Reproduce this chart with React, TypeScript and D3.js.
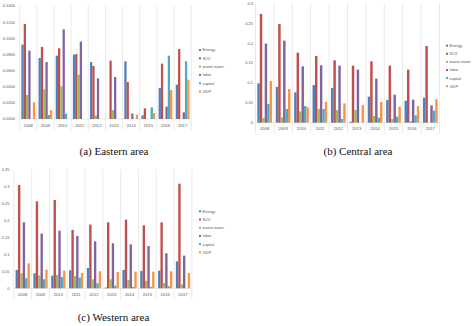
import React from "react";
import * as d3 from "d3";

const years = ["2008", "2009", "2010", "2011", "2012", "2013", "2014", "2015", "2016", "2017"];
const seriesNames = ["Energy", "SO2", "waste water", "labor", "capital", "GDP"];
const colors = ["#4F81BD", "#C0504D", "#9BBB59", "#8064A2", "#4BACC6", "#F79646"];

// Eastern area
const eastEnergy = [0.0921, 0.0756, 0.0785, 0.0797, 0.0706, 0, 0.0715, 0.0045, 0.0384, 0.0425];
const eastSO2 = [0.1177, 0.0892, 0.0876, 0.0805, 0.0657, 0.0723, 0.0458, 0.0132, 0.0686, 0.0867];
const eastWaste = [0.0297, 0.0368, 0.0405, 0.0549, 0.0045, 0.011, 0, 0, 0, 0];
const eastLabor = [0.0847, 0.0706, 0.1111, 0.0958, 0.0504, 0.052, 0.0066, 0, 0.0153, 0.0083];
const eastCapital = [0, 0.005, 0.0066, 0, 0, 0, 0, 0.0145, 0.0785, 0.0715];
const eastGDP = [0.0207, 0.011, 0, 0, 0, 0, 0.0054, 0.0074, 0.0359, 0.0487];
const eastTicks = [0, 0.02, 0.04, 0.06, 0.08, 0.1, 0.12, 0.14];

// Central area
const centEnergy = [0.0989, 0.0897, 0.0763, 0.0947, 0.0872, 0.0025, 0.0654, 0.057, 0.0553, 0.0629];
const centSO2 = [0.2733, 0.248, 0.176, 0.1676, 0.1567, 0.1433, 0.1542, 0.1433, 0.1333, 0.1928];
const centWaste = [0.0117, 0.0134, 0.0285, 0.0344, 0.0319, 0.0319, 0.0168, 0.0092, 0.0042, 0];
const centLabor = [0.1987, 0.2062, 0.1417, 0.1442, 0.1433, 0.1333, 0.1106, 0.0704, 0.0578, 0.0436];
const centCapital = [0.0469, 0.0344, 0.0419, 0.0344, 0.0092, 0, 0.0126, 0.0151, 0.0184, 0.0302];
const centGDP = [0.1048, 0.0847, 0.0386, 0.0528, 0.0486, 0.0444, 0.052, 0.0402, 0.0419, 0.0587];
const centTicks = [0, 0.05, 0.1, 0.15, 0.2, 0.25, 0.3];

// Western area
const westEnergy = [0.0539, 0.0441, 0.0373, 0.0529, 0.0598, 0.002, 0.0539, 0.051, 0.052, 0.0794];
const westSO2 = [0.304, 0.2559, 0.2598, 0.1716, 0.1873, 0.1941, 0.202, 0.1853, 0.1941, 0.3078];
const westWaste = [0.0441, 0.0382, 0.0392, 0.0363, 0.0265, 0.0265, 0.0245, 0.0225, 0.0157, 0.0118];
const westLabor = [0.194, 0.1608, 0.1696, 0.1539, 0.1382, 0.1324, 0.1294, 0.1245, 0.1029, 0.0961];
const westCapital = [0.0294, 0.0265, 0.0333, 0.0314, 0.0147, 0.0078, 0.0039, 0.0039, 0.0059, 0];
const westGDP = [0.0735, 0.0549, 0.052, 0.0451, 0.05, 0.048, 0.049, 0.049, 0.05, 0.0451];
const westTicks = [0, 0.05, 0.1, 0.15, 0.2, 0.25, 0.3, 0.35];

type PanelProps = {
  left: number;
  right: number;
  top: number;
  bottom: number;
  ticks: number[];
  fmt: (v: number) => string;
  labelX: number;
  series: number[][];
  legendX: number;
  legendY: number;
  legendStep: number;
};

function Panel(p: PanelProps) {
  const x = d3.scaleBand<string>().domain(years).range([p.left, p.right]);
  const yMax = p.ticks[p.ticks.length - 1];
  const y = d3.scaleLinear().domain([0, yMax]).range([p.bottom, p.top]);
  const step = x.step();
  const bw = step / 7.5;
  const inner = d3
    .scaleBand<number>()
    .domain(d3.range(seriesNames.length))
    .range([(step - bw * 6) / 2, (step + bw * 6) / 2]);
  const gridBottom = p.bottom + 11;
  return (
    <g>
      {d3.range(years.length + 1).map((i) => (
        <line
          key={"g" + i}
          x1={p.left + i * step}
          x2={p.left + i * step}
          y1={p.top}
          y2={gridBottom}
          stroke="#dcdcdc"
          strokeWidth={0.6}
        />
      ))}
      <line x1={p.left} x2={p.right} y1={p.bottom} y2={p.bottom} stroke="#dcdcdc" strokeWidth={0.6} />
      {p.ticks.map((t) => (
        <text
          key={"t" + t}
          x={p.labelX}
          y={y(t)}
          dy="0.35em"
          textAnchor="end"
          fontSize={4}
          fill="#595959"
          fontFamily="Liberation Sans, sans-serif"
        >
          {p.fmt(t)}
        </text>
      ))}
      {years.map((yr) => (
        <text
          key={"c" + yr}
          x={(x(yr) as number) + step / 2}
          y={p.bottom + 7.5}
          textAnchor="middle"
          fontSize={4.2}
          fill="#595959"
          fontFamily="Liberation Sans, sans-serif"
        >
          {yr}
        </text>
      ))}
      {p.series.map((vals, si) =>
        vals.map((v, i) => (
          <rect
            key={"b" + si + "-" + i}
            x={(x(years[i]) as number) + (inner(si) as number)}
            y={y(v)}
            width={bw}
            height={p.bottom - y(v)}
            fill={colors[si]}
          />
        ))
      )}
      {seriesNames.map((n, si) => (
        <g key={"l" + n}>
          <rect x={p.legendX} y={p.legendY + si * p.legendStep - 1} width={2} height={2} fill={colors[si]} />
          <text
            x={p.legendX + 3.5}
            y={p.legendY + si * p.legendStep}
            dy="0.35em"
            fontSize={4}
            fill="#595959"
            fontFamily="Liberation Sans, sans-serif"
          >
            {n}
          </text>
        </g>
      ))}
    </g>
  );
}

const captionStyle: React.CSSProperties = {
  fontFamily: "'Liberation Serif', 'Times New Roman', 'DejaVu Serif', serif",
  fontSize: "11px",
};

export default function App() {
  const f4 = (v: number) => v.toFixed(4);
  const fg = (v: number) => (v === 0 ? "0" : String(+v.toFixed(2)));
  return (
    <svg
      width={474}
      height={326}
      style={{ position: "absolute", left: 0, top: 0, background: "#fff" }}
    >
      <rect width={474} height={326} fill="#fff" />
      <Panel
        left={19.7}
        right={191.2}
        top={6}
        bottom={119}
        ticks={eastTicks}
        fmt={f4}
        labelX={15}
        series={[eastEnergy, eastSO2, eastWaste, eastLabor, eastCapital, eastGDP]}
        legendX={199}
        legendY={50}
        legendStep={8.3}
      />
      <Panel
        left={255.5}
        right={439.5}
        top={3.3}
        bottom={122.7}
        ticks={centTicks}
        fmt={fg}
        labelX={253}
        series={[centEnergy, centSO2, centWaste, centLabor, centCapital, centGDP]}
        legendX={446}
        legendY={45.7}
        legendStep={8.1}
      />
      <Panel
        left={13.8}
        right={191.9}
        top={169.3}
        bottom={288.3}
        ticks={westTicks}
        fmt={fg}
        labelX={9.5}
        series={[westEnergy, westSO2, westWaste, westLabor, westCapital, westGDP]}
        legendX={199}
        legendY={211.3}
        legendStep={8.2}
      />
      <g fill="#111">
        <text x={114} y={155} textAnchor="middle" style={captionStyle}>(a) Eastern area</text>
        <text x={358} y={155} textAnchor="middle" style={captionStyle}>(b) Central area</text>
        <text x={113.5} y={321} textAnchor="middle" style={captionStyle}>(c) Western area</text>
      </g>
    </svg>
  );
}
